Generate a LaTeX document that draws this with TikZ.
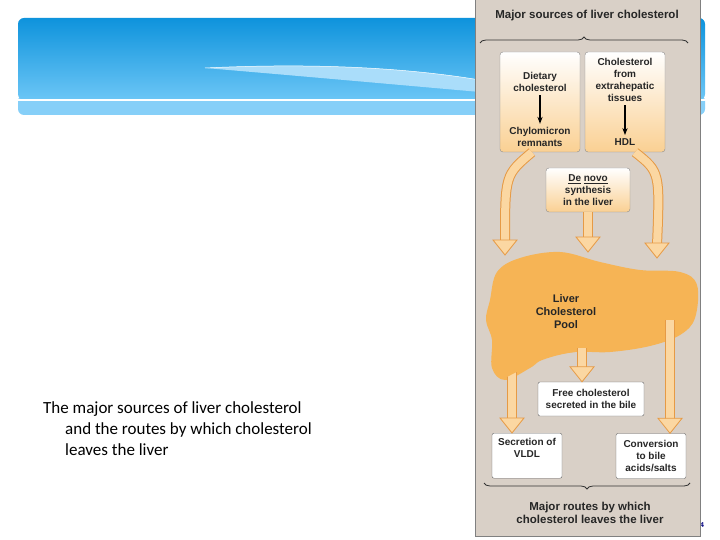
\documentclass[tikz,border=0pt]{standalone}
\usepackage{fontspec}
\setmainfont{Liberation Sans}
\newfontfamily\leftfont{Carlito}
\usetikzlibrary{arrows.meta,decorations.pathreplacing,shapes.geometric}
\definecolor{panelbg}{HTML}{D9D0C7}
\definecolor{liverc}{HTML}{F6B455}
\definecolor{arrowfill}{HTML}{FBD7A2}
\definecolor{arrowline}{HTML}{E69A45}
\definecolor{bannertop}{HTML}{0E93DC}
\definecolor{bannerbot}{HTML}{6CC6F6}
\definecolor{bandc}{HTML}{86CFF8}
\tikzset{
 lbl/.style={font=\bfseries\fontsize{10}{12}\selectfont, align=center, text=black!85},
 srcbox/.style={draw=black!45, rounded corners=3pt, top color=white, bottom color=arrowfill!80!liverc},
 outbox/.style={draw=black!60, fill=white, rounded corners=2pt},
 fatout/.style={draw=arrowline, line width=10pt},
 fatin/.style={draw=arrowfill, line width=8pt},
 fathead/.style={fill=arrowfill, draw=arrowline, line width=0.8pt, line join=miter},
}
\begin{document}
\begin{tikzpicture}[x=1pt,y=-1pt]
\useasboundingbox (0,0) rectangle (720,540);
\fill[white] (0,0) rectangle (720,540);
% banner
\fill[bandc, rounded corners=6pt] (18,95) rectangle (705,115);
\shade[top color=bannertop, bottom color=bannerbot, rounded corners=6pt] (18,18) rectangle (705,100);
\fill[bandc!70!white] (205,68) .. controls (330,62) and (420,70) .. (480,80) -- (480,92) .. controls (400,85) and (300,76) .. (205,68);
\draw[white, line width=0.5pt] (205,68) .. controls (330,62) and (420,70) .. (480,80);
\draw[white, line width=2pt] (18,100.5) -- (705,100.5);
\node (pg) [font=\bfseries\scriptsize, text=blue!50!black] at (702,525) {4};
% left text
\node (caption) [anchor=north west, align=left, font=\leftfont\fontsize{17}{21}\selectfont, inner sep=0pt] at (43,401)
 {The major sources of liver cholesterol\\\hspace*{22pt}and the routes by which cholesterol\\\hspace*{22pt}leaves the liver};
% panel
\fill[panelbg, draw=black!50] (475,-2) rectangle (700,536);
\node (title) [font=\bfseries\fontsize{11.5}{13}\selectfont, text=black!85] at (587,16) {Major sources of liver cholesterol};
\draw[decorate, decoration={brace, amplitude=6pt}, line width=0.8pt, black!80] (480,43) -- (688,43);
% source boxes
\node (b1) [srcbox, minimum width=80pt, minimum height=100pt] at (540,102) {};
\node (b2) [srcbox, minimum width=80pt, minimum height=100pt] at (625,102) {};
\node (diet) [lbl] at (540,82) {Dietary\\cholesterol};
\node (chylo) [lbl] at (540,137) {Chylomicron\\remnants};
\draw[-{Stealth[length=7pt]}, line width=1.2pt] (diet.south) -- (chylo.north);
\node (extra) [lbl] at (625,80) {Cholesterol\\from\\extrahepatic\\tissues};
\node (hdl) [lbl] at (625,142) {HDL};
\draw[-{Stealth[length=7pt]}, line width=1.2pt] (extra.south) -- (hdl.north);
\node (novo) [srcbox, lbl, minimum width=84pt, minimum height=44pt] at (588,190) {\underline{De} \underline{novo}\\synthesis\\in the liver};
% liver
\fill[liverc] plot[smooth cycle, tension=0.6] coordinates {(490,300) (497,272) (520,258) (560,252) (600,262) (640,270) (680,272) (697,285) (695,318) (680,335) (650,346) (610,352) (575,352) (545,358) (530,368) (505,380) (492,368) (492,340) (486,320)};
\node (liver) [lbl, font=\bfseries\fontsize{11}{13}\selectfont] at (566,312) {Liver\\Cholesterol\\Pool};
\coordinate (l1) at (505,255);
\coordinate (l2) at (588,252);
\coordinate (l3) at (657,258);
% incoming arrows
\foreach \s in {fatout,fatin}{
 \draw[\s] (b1.south) ++(-8,0) .. controls (505,175) .. ([yshift=13]l1);
 \draw[\s] (novo.south) -- ([yshift=13]l2);
 \draw[\s] (b2.south) ++(10,0) .. controls (660,172) .. ([yshift=13]l3);
}
\foreach \p in {l1,l2,l3}{
 \fill[fathead] (\p) -- ([shift={(-12,-15)}]\p) -- ([shift={(12,-15)}]\p) -- cycle;
}
% output boxes
\node (free) [outbox, lbl, minimum width=106pt, minimum height=34pt] at (591,399) {Free cholesterol\\secreted in the bile};
\node (vldl) [outbox, minimum width=70pt, minimum height=45pt, anchor=north] at (527,433) {};
\node (vldlt) [lbl, anchor=north] at (527,435) {Secretion of\\VLDL};
\node (conv) [outbox, lbl, minimum width=70pt, minimum height=45pt] at (651,456) {Conversion\\to bile\\acids/salts};
\coordinate (o1) at (512,372);
\coordinate (o2) at (582,348);
\coordinate (o3) at (670,320);
\coordinate (h1) at (o1 |- vldl.north);
\coordinate (h2) at (o2 |- free.north);
\coordinate (h3) at (o3 |- conv.north);
\foreach \s in {fatout,fatin}{
 \draw[\s] (o1) -- ([yshift=13]h1);
 \draw[\s] (o2) -- ([yshift=13]h2);
 \draw[\s] (o3) -- ([yshift=13]h3);
}
\foreach \p in {h1,h2,h3}{
 \fill[fathead] (\p) -- ([shift={(-12,-15)}]\p) -- ([shift={(12,-15)}]\p) -- cycle;
}
\fill[liverc] (492,340) -- (575,340) -- (575,352) .. controls (545,356) and (530,365) .. (505,378) -- (492,365) -- cycle;
\draw[decorate, decoration={brace, mirror, amplitude=6pt}, line width=0.8pt, black!80] (484,483) -- (690,483);
\node (routes) [lbl, font=\bfseries\fontsize{11.5}{13.5}\selectfont] at (590,513) {Major routes by which\\cholesterol leaves the liver};
\end{tikzpicture}
\end{document}
